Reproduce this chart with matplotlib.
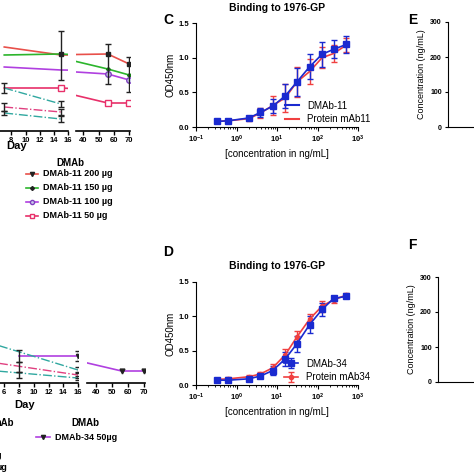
import matplotlib
matplotlib.use("Agg")
import matplotlib.pyplot as plt
import numpy as np

plt.rcParams['font.family'] = ['Liberation Sans', 'DejaVu Sans']
plt.rcParams['font.weight'] = 'bold'
W = H = 474
fig = plt.figure(figsize=(4.74, 4.74), dpi=100)

def ax_px(x0, y0, x1, y1):
    return fig.add_axes([x0 / W, 1 - y1 / H, (x1 - x0) / W, (y1 - y0) / H])

# ---------------- data ----------------
conc = [0.33, 0.63, 2.0, 3.9, 7.8, 16, 31, 64, 130, 250, 510]
c_dmab11 = [0.08, 0.09, 0.13, 0.21, 0.30, 0.45, 0.65, 0.87, 1.05, 1.12, 1.19]
c_dmab11_err = [0.02, 0.02, 0.03, 0.07, 0.10, 0.17, 0.20, 0.18, 0.18, 0.13, 0.12]
c_prot11 = [0.08, 0.09, 0.12, 0.20, 0.31, 0.42, 0.65, 0.80, 1.00, 1.06, 1.18]
c_prot11_err = [0.02, 0.02, 0.04, 0.07, 0.13, 0.20, 0.22, 0.18, 0.15, 0.12, 0.10]
d_dmab34 = [0.07, 0.07, 0.09, 0.13, 0.21, 0.38, 0.60, 0.88, 1.10, 1.26, 1.29]
d_dmab34_err = [0.02, 0.02, 0.02, 0.03, 0.06, 0.10, 0.12, 0.12, 0.09, 0.04, 0.03]
d_prot34 = [0.08, 0.09, 0.12, 0.16, 0.25, 0.44, 0.70, 0.96, 1.15, 1.24, 1.31]
d_prot34_err = [0.02, 0.02, 0.02, 0.03, 0.06, 0.09, 0.08, 0.08, 0.08, 0.05, 0.03]

days_a = [7, 15, 56, 70]
a_200 = [84, 76, 77, 67]
a_150 = [76, 77, 62, 56]
a_100 = [64, 61, 57, 51]
a_50 = [43, 43, 28, 28]
days_a_dd = [7, 15]
a_dd_teal1 = [43, 27]
a_dd_pink = [24, 19]
a_dd_teal2 = [18, 12]

days_b = [8, 16, 56, 70]
b_34 = [27, 27, 12, 12]
days_b_dd = [5, 16]
b_dd_teal1 = [38, 13]
b_dd_pink = [20, 8]
b_dd_teal2 = [12, 5]

legend_a = ['DMAb-11 200 µg', 'DMAb-11 150 µg', 'DMAb-11 100 µg', 'DMAb-11 50 µg']
legend_b = ['DMAb-34 50µg']

TS = 5.5

def style_break(ax, xlim, ticks, ylim):
    ax.set_xlim(*xlim); ax.set_ylim(*ylim)
    for s in ['top', 'right', 'left']:
        ax.spines[s].set_visible(False)
    ax.set_yticks([])
    ax.set_xticks(ticks)
    ax.tick_params(axis='x', labelsize=TS, length=3, width=1, pad=1.5)
    ax.spines['bottom'].set_linewidth(1.2)
    ax.patch.set_alpha(0)

# ---------------- panel A ----------------
a1 = ax_px(0, 0, 68, 131)
a2 = ax_px(76, 0, 130, 131)
for ax, xl, tk in [(a1, (6.4, 16), [8, 10, 12, 14, 16]), (a2, (35.3, 70.5), [40, 50, 60, 70])]:
    style_break(ax, xl, tk, (0, 131))
    ax.plot(days_a, a_200, color='#e8504a', lw=1.2)
    ax.plot(days_a, a_150, color='#2cb52c', lw=1.2)
    ax.plot(days_a, a_100, color='#b040e0', lw=1.2)
    ax.plot(days_a, a_50, color='#e8306a', lw=1.2)
    ax.plot(days_a_dd, a_dd_teal1, color='#30a8a0', lw=1, ls='-.')
    ax.plot(days_a_dd, a_dd_pink, color='#e04080', lw=1, ls='-.')
    ax.plot(days_a_dd, a_dd_teal2, color='#30a8a0', lw=1, ls='-.')
a1.errorbar([15], [a_150[1]], yerr=[[26], [23]], fmt='s', ms=3.5, color='#222', capsize=2, lw=1)
a1.plot([15], [a_50[1]], 's', ms=4, mfc='white', mec='#e8306a', mew=1)
a1.errorbar([15, 15, 15], [a_dd_teal1[1], a_dd_pink[1], a_dd_teal2[1]], yerr=3, fmt='none', ecolor='#222', capsize=2, lw=1)
a1.errorbar([7, 7, 7], [a_50[0], a_dd_pink[0], a_dd_teal2[0]], yerr=[5, 4, 2], fmt='none', ecolor='#222', capsize=2, lw=1)
a2.errorbar([56, 70], [a_200[2], a_200[3]], yerr=[[30, 28], [10, 7]], fmt='s', ms=3, color='#222', capsize=2, lw=1, zorder=3)
a2.plot([56, 70], a_150[2:], 'D', ms=2, color='#1a7a1a')
a2.plot([56, 70], a_100[2:], 'o', ms=4, mfc='#c8c8e8', mec='#8040c0', mew=1)
a2.plot([56, 70], a_50[2:], 's', ms=4, mfc='white', mec='#e8306a', mew=1)
fig.text(6 / W, 1 - 146 / H, 'Day', fontsize=8, va='center')
fig.text(70 / W, 1 - 163 / H, 'DMAb', fontsize=7, ha='center', va='center')
leg_styles = [('#e8504a', 'v', '#222', '#222'), ('#2cb52c', 'D', '#222', '#222'),
              ('#b040e0', 'o', '#c8c8e8', '#8040c0'), ('#e8306a', 's', 'white', '#e8306a')]
for i, (lab, (c, m, mf, me)) in enumerate(zip(legend_a, leg_styles)):
    y = 1 - (174 + 14 * i) / H
    fig.add_artist(plt.Line2D([26 / W, 38 / W], [y, y], color=c, lw=1.2))
    fig.add_artist(plt.Line2D([32 / W], [y], marker=m, ms=3 if m != 'D' else 2, mfc=mf, mec=me, color=c))
    fig.text(43 / W, y, lab, fontsize=6.5, va='center')

# ---------------- panel B ----------------
b1 = ax_px(0, 240, 78, 383)
b2 = ax_px(87, 240, 145, 383)
for ax, xl, tk in [(b1, (5.42, 16), [6, 8, 10, 12, 14, 16]), (b2, (34.4, 70.6), [40, 50, 60, 70])]:
    style_break(ax, xl, tk, (0, 143))
    ax.plot(days_b, b_34, color='#b040e0', lw=1.2)
    ax.plot(days_b_dd, b_dd_teal1, color='#30a8a0', lw=1, ls='-.')
    ax.plot(days_b_dd, b_dd_pink, color='#e04080', lw=1, ls='-.')
    ax.plot(days_b_dd, b_dd_teal2, color='#30a8a0', lw=1, ls='-.')
b1.errorbar([8, 8, 8], [b_34[0], 16, 8], yerr=[6, 5, 3], fmt='none', ecolor='#222', capsize=2, lw=1)
b1.errorbar([16, 16, 16, 16], [b_34[1], 13, 8, 5], yerr=[5, 3, 3, 2], fmt='none', ecolor='#222', capsize=2, lw=1)
b1.plot([16], [b_34[1]], 'v', ms=3, color='#222')
b2.plot([56, 70], b_34[2:], 'v', ms=3.5, color='#222')
fig.text(14 / W, 1 - 405 / H, 'Day', fontsize=8, va='center')
fig.text(-8 / W, 1 - 423 / H, 'mAb', fontsize=7, va='center')
fig.text(85 / W, 1 - 423 / H, 'DMAb', fontsize=7, ha='center', va='center')
yb = 1 - 437 / H
fig.add_artist(plt.Line2D([36 / W, 50 / W], [yb, yb], color='#b040e0', lw=1.2))
fig.add_artist(plt.Line2D([43 / W], [yb], marker='v', ms=3, color='#222'))
fig.text(55 / W, yb, legend_b[0], fontsize=6.5, va='center')
fig.text(-4 / W, 1 - 455 / H, 'g', fontsize=6.5, va='center')
fig.text(-4 / W, 1 - 468 / H, 'µg', fontsize=6.5, va='center')

# ---------------- panels C & D ----------------
def binding(ax, s1, e1, s2, e2, l1, l2, markers):
    ax.errorbar(conc, s2, yerr=e2, color='#f04040', lw=1.2, capsize=2, elinewidth=1,
                marker='o' if markers else None, ms=3, label=l2)
    ax.errorbar(conc, s1, yerr=e1, color='#1a2ad0', lw=1.2, capsize=2, elinewidth=1,
                marker='s', ms=4, label=l1)
    ax.set_xscale('log')
    ax.set_xlim(0.1, 1000); ax.set_ylim(0, 1.5)
    ax.set_yticks([0, 0.5, 1.0, 1.5])
    ax.set_yticklabels(['0.0', '0.5', '1.0', '1.5'])
    for s in ['top', 'right']:
        ax.spines[s].set_visible(False)
    ax.tick_params(labelsize=TS, length=3, pad=2)
    ax.tick_params(which='minor', length=1.5)
    ax.set_ylabel('OD450nm', fontsize=7, labelpad=2)
    ax.set_xlabel('[concentration in ng/mL]', fontsize=7, labelpad=3)
    h, l = ax.get_legend_handles_labels()
    if not markers:
        h = [plt.Line2D([], [], color='#1a2ad0', lw=1.5), plt.Line2D([], [], color='#f04040', lw=1.5)]
        l = [l1, l2]
    else:
        h, l = h[::-1], l[::-1]
    ax.legend(h, l, loc='lower right', bbox_to_anchor=(1.13, -0.06), frameon=False, fontsize=7,
              handlelength=1.5, labelspacing=0.4, prop={'weight': 'normal', 'size': 7})

c = ax_px(196, 23, 358, 127)
binding(c, c_dmab11, c_dmab11_err, c_prot11, c_prot11_err, 'DMAb-11', 'Protein mAb11', False)
fig.text(277 / W, 1 - 8 / H, 'Binding to 1976-GP', fontsize=7.5, ha='center', va='center')
fig.text(163 / W, 1 - 20 / H, 'C', fontsize=10, va='center')

d = ax_px(196, 282, 358, 385)
binding(d, d_dmab34, d_dmab34_err, d_prot34, d_prot34_err, 'DMAb-34', 'Protein mAb34', True)
fig.text(277 / W, 1 - 266 / H, 'Binding to 1976-GP', fontsize=7.5, ha='center', va='center')
fig.text(163 / W, 1 - 252 / H, 'D', fontsize=10, va='center')

# ---------------- panels E & F ----------------
for (x0, y0, y1, lab, ly) in [(448, 22, 127, 'E', 20), (438, 277, 382, 'F', 245)]:
    ax = ax_px(x0, y0, x0 + 60, y1)
    ax.set_ylim(0, 300); ax.set_yticks([0, 100, 200, 300])
    ax.set_xticks([])
    for s in ['top', 'right']:
        ax.spines[s].set_visible(False)
    ax.tick_params(labelsize=TS - 0.5, length=2.5, pad=2)
    ax.set_ylabel('Concentration (ng/mL)', fontsize=6.5, labelpad=3)
    fig.text(408 / W, 1 - ly / H, lab, fontsize=10, va='center')

fig.savefig('out.png', dpi=100)
